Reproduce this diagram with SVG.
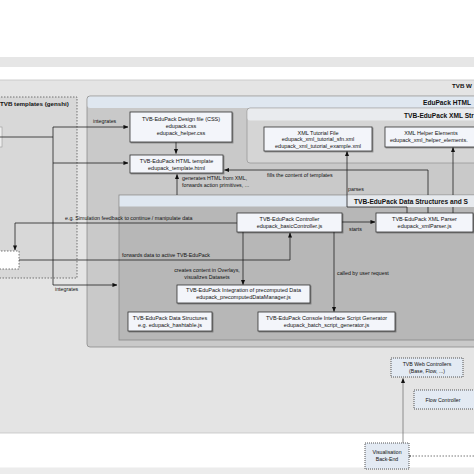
<svg xmlns="http://www.w3.org/2000/svg" width="474" height="474" viewBox="0 0 474 474">
<style>
.t{font-family:"Liberation Sans",Arial,sans-serif;font-size:5.5px;fill:#111;text-anchor:middle}
.l{font-family:"Liberation Sans",Arial,sans-serif;font-size:5.3px;fill:#111}
.h{font-family:"Liberation Sans",Arial,sans-serif;font-size:6.6px;font-weight:bold;fill:#111}
.n{fill:#f3f5fa;stroke:#333;stroke-width:0.8;filter:url(#sh)}
.c{fill:none;stroke:#222;stroke-width:0.8}
.d{fill:#e3eaf3;stroke:#444;stroke-width:0.9;stroke-dasharray:1,1}
</style>
<defs>
<filter id="sh" x="-10%" y="-20%" width="130%" height="150%"><feDropShadow dx="1" dy="1" stdDeviation="0.6" flood-color="#000" flood-opacity="0.35"/></filter>
<marker id="a" viewBox="0 0 6 6" refX="5.5" refY="3" markerWidth="5" markerHeight="5" orient="auto" markerUnits="userSpaceOnUse"><path d="M0,0.5 L6,3 L0,5.5 z" fill="#111"/></marker>
<marker id="o" viewBox="0 0 8 8" refX="0.5" refY="4" markerWidth="7" markerHeight="7" orient="auto" markerUnits="userSpaceOnUse"><path d="M8,0.5 L0.5,4 L8,7.5" fill="none" stroke="#333" stroke-width="0.8"/></marker>
</defs>
<rect x="0" y="0" width="474" height="474" fill="#fff"/>
<rect x="0" y="57" width="474" height="10" fill="#e6e6e6"/>
<rect x="-5" y="80" width="484" height="353" fill="#e4e4e4" stroke="#c4c4c4" stroke-width="0.8"/>
<rect x="0" y="467.5" width="474" height="6.5" fill="#ececec"/>
<text class="h" x="452" y="88" style="font-size:6.2px">TVB W</text>

<g id="tvb-templates">
<rect x="-5" y="97" width="82" height="181" fill="#d8d8d8" stroke="#555" stroke-width="0.8" stroke-dasharray="1.5,1.5"/>
<text class="h" x="0" y="106" style="font-size:6.2px">TVB templates (genshi)</text>
</g>
<g id="left-node-top"><rect x="-5" y="127" width="7" height="20" fill="#ededed" stroke="#999" stroke-width="0.6"/></g>
<g id="left-node-bottom"><rect x="-5" y="251" width="24" height="18" fill="#fff" stroke="#555" stroke-width="0.8" stroke-dasharray="1.5,1.5"/></g>

<g id="edupack-html">
<rect x="87" y="96" width="400" height="251" rx="3" fill="#c9c9c9" stroke="#8a8a8a" stroke-width="0.8"/>
<rect x="87.5" y="96.5" width="399" height="11.5" rx="2.5" fill="#dfe7f0"/>
<text class="h" x="423" y="105">EduPack HTML</text>
</g>
<g id="xml-structure">
<rect x="247" y="108" width="240" height="55" rx="3" fill="#d5d5d5" stroke="#9a9a9a" stroke-width="0.8"/>
<rect x="247.5" y="108.5" width="239" height="12" rx="2.5" fill="#e9ebee"/>
<text class="h" x="404" y="117.5">TVB-EduPack XML Str</text>
</g>
<g id="data-structures-box">
<rect x="119" y="195" width="370" height="145" fill="#b7b7b7" stroke="#888" stroke-width="0.8"/>
<rect x="119.5" y="195.5" width="369" height="11" fill="#dfe7f0"/>
<rect x="347" y="195.5" width="140" height="11.5" fill="#e7eaee"/>
<text class="h" x="354" y="204">TVB-EduPack Data Structures and S</text>
</g>

<g id="connectors">
<path class="c" d="M0,137 H53"/>
<path class="c" d="M53,127 V285 H117" marker-end="url(#a)"/>
<path class="c" d="M53,127 H128" marker-end="url(#a)"/>
<path class="c" d="M53,163 H128" marker-end="url(#a)"/>
<path class="c" d="M176,142 V153.5" marker-end="url(#a)"/>
<path class="c" d="M177,195 V174.5" marker-end="url(#a)"/>
<path class="c" d="M428,195 V170 H224.5" marker-end="url(#a)"/>
<path class="c" d="M428,207 V213"/>
<path class="c" d="M407,213 V207 H347 V151.5" marker-end="url(#a)"/>
<path class="c" d="M453,195 V147.5" marker-end="url(#a)"/>
<path class="c" d="M453,207 V213"/>
<path class="c" d="M342,222 H375" marker-end="url(#a)"/>
<path class="c" d="M237,223 H15 V250" marker-end="url(#a)"/>
<path class="c" d="M19,260 H290 V233" marker-end="url(#a)"/>
<path class="c" d="M243,232 V284.5" marker-end="url(#a)"/>
<path class="c" d="M334,232 V311.5" marker-end="url(#a)"/>
<path d="M403,443 V378.5" fill="none" stroke="#777" stroke-width="0.8" marker-end="url(#a)"/>
<path d="M474,456 H411" fill="none" stroke="#555" stroke-width="0.8" stroke-dasharray="1.5,1.5" marker-end="url(#o)"/>
<text class="l" x="93" y="123">integrates</text>
<text class="l" x="55" y="291">integrates</text>
<text class="l" x="182" y="180">generates HTML from XML,</text>
<text class="l" x="182" y="186.5">forwards action primitives, ...</text>
<text class="l" x="267" y="177">fills the content of templates</text>
<text class="l" x="348" y="191">parses</text>
<text class="l" x="349" y="231">starts</text>
<text class="l" x="65" y="220">e.g. Simulation feedback to continue / manipulate data</text>
<text class="l" x="122" y="257">forwards data to active TVB-EduPack</text>
<text class="l" x="207" y="272" text-anchor="middle">creates content in Overlays,</text>
<text class="l" x="207" y="278.5" text-anchor="middle">visualizes Datasets</text>
<text class="l" x="337" y="275">called by user request</text>
</g>

<g id="design-file">
<rect class="n" x="130" y="112" width="102" height="30"/>
<text class="t" x="181" y="120.5">TVB-EduPack Design file (CSS)</text>
<text class="t" x="181" y="127.5">edupack.css</text>
<text class="t" x="181" y="134.5">edupack_helper.css</text>
</g>
<g id="html-template">
<rect class="n" x="130" y="155" width="93" height="18"/>
<text class="t" x="176.5" y="162.5">TVB-EduPack HTML template</text>
<text class="t" x="176.5" y="169.5">edupack_template.html</text>
</g>
<g id="xml-tutorial">
<rect class="n" x="264" y="127" width="108" height="24"/>
<text class="t" x="318" y="134.5">XML Tutorial File</text>
<text class="t" x="318" y="141">edupack_xml_tutorial_sfn.xml</text>
<text class="t" x="318" y="147.5">edupack_xml_tutorial_example.xml</text>
</g>
<g id="xml-helper">
<rect class="n" x="385" y="127" width="100" height="20"/>
<text class="t" x="431" y="135">XML Helper Elements</text>
<text class="t" x="390" y="142" style="text-anchor:start">edupack_xml_helper_elements.</text>
</g>
<g id="controller">
<rect class="n" x="237" y="213" width="105" height="19"/>
<text class="t" x="289.5" y="220.5">TVB-EduPack Controller</text>
<text class="t" x="289.5" y="227.5">edupack_basicController.js</text>
</g>
<g id="xml-parser">
<rect class="n" x="376" y="213" width="97" height="19"/>
<text class="t" x="424.5" y="220.5">TVB-EduPack XML Parser</text>
<text class="t" x="424.5" y="227.5">edupack_xmlParser.js</text>
</g>
<g id="precomputed">
<rect class="n" x="177" y="285" width="133" height="18"/>
<text class="t" x="243.5" y="292">TVB-EduPack Integration of precomputed Data</text>
<text class="t" x="243.5" y="299">edupack_precomputedDataManager.js</text>
</g>
<g id="data-structures">
<rect class="n" x="128" y="312" width="84" height="19"/>
<text class="t" x="170" y="319.5">TVB-EduPack Data Structures</text>
<text class="t" x="170" y="326.5">e.g. edupack_hashtable.js</text>
</g>
<g id="console">
<rect class="n" x="258" y="312" width="137" height="19"/>
<text class="t" x="326.5" y="319.5">TVB-EduPack Console Interface  Script Generator</text>
<text class="t" x="326.5" y="326.5">edupack_batch_script_generator.js</text>
</g>
<g id="web-controllers">
<rect class="d" x="391" y="358" width="72" height="19"/>
<text class="t" x="427" y="366" style="font-size:5.2px">TVB Web Controllers</text>
<text class="t" x="427" y="373" style="font-size:5.2px">(Base, Flow, ...)</text>
</g>
<g id="flow-controller">
<rect class="d" x="414" y="390" width="65" height="19"/>
<text class="t" x="443" y="401.5" style="font-size:5.2px">Flow Controller</text>
</g>
<g id="visualisation">
<rect class="d" x="365" y="443" width="44" height="26"/>
<text class="t" x="387" y="454" style="font-size:5.2px">Visualisation</text>
<text class="t" x="387" y="461" style="font-size:5.2px">Back-End</text>
</g>
</svg>
